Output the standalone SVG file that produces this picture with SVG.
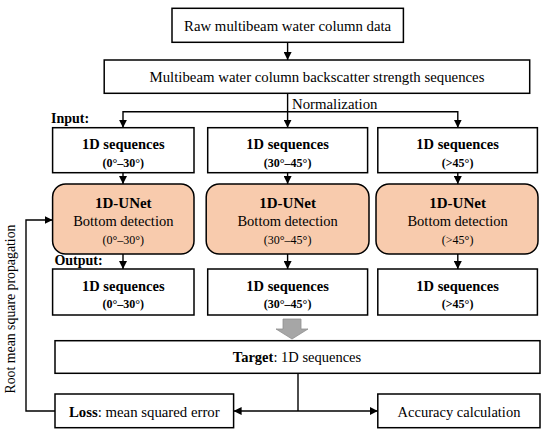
<svg xmlns="http://www.w3.org/2000/svg" width="550" height="436" viewBox="0 0 550 436">
<defs>
<style>
.box{fill:#fff;stroke:#000;stroke-width:1.5}
.unet{fill:#f8cbad;stroke:#000;stroke-width:1.5}
.ln{fill:none;stroke:#000;stroke-width:1.4}
text{font-family:"Liberation Serif","Times New Roman",serif;fill:#000}
.t{font-size:14.8px;text-anchor:middle}
.b{font-size:14.5px;font-weight:bold;text-anchor:middle}
.s{font-size:12px;text-anchor:middle}
.sb{font-size:12px;font-weight:bold;text-anchor:middle}
.lab{font-size:14px;font-weight:bold}
</style>
<marker id="ah" viewBox="0 0 10 10" refX="10" refY="5" markerWidth="8" markerHeight="8" markerUnits="userSpaceOnUse" orient="auto">
<path d="M0,0 L10,5 L0,10 Z" fill="#000"/>
</marker>
</defs>
<rect width="550" height="436" fill="#fff"/>

<g id="connectors">
<line class="ln" x1="287.6" y1="42.3" x2="287.6" y2="60" marker-end="url(#ah)"/>
<line class="ln" x1="287.6" y1="93.3" x2="287.6" y2="111.7"/>
<line class="ln" x1="123" y1="111.7" x2="457.8" y2="111.7"/>
<line class="ln" x1="123" y1="111" x2="123" y2="127.7" marker-end="url(#ah)"/>
<line class="ln" x1="287.6" y1="111" x2="287.6" y2="127.7" marker-end="url(#ah)"/>
<line class="ln" x1="457.8" y1="111" x2="457.8" y2="127.7" marker-end="url(#ah)"/>
<line class="ln" x1="123" y1="172.7" x2="123" y2="184" marker-end="url(#ah)"/>
<line class="ln" x1="287.6" y1="172.7" x2="287.6" y2="184" marker-end="url(#ah)"/>
<line class="ln" x1="457.8" y1="172.7" x2="457.8" y2="184" marker-end="url(#ah)"/>
<line class="ln" x1="123" y1="254" x2="123" y2="269" marker-end="url(#ah)"/>
<line class="ln" x1="287.6" y1="254" x2="287.6" y2="269" marker-end="url(#ah)"/>
<line class="ln" x1="457.8" y1="254" x2="457.8" y2="269" marker-end="url(#ah)"/>
<path d="M283,319 H301 V329 H308 L292,339 L276,329 H283 Z" fill="#a6a6a6" stroke="#8f8f8f" stroke-width="0.8"/>
<line class="ln" x1="298" y1="373.3" x2="298" y2="411"/>
<line class="ln" x1="298" y1="411" x2="233.6" y2="411" marker-end="url(#ah)"/>
<line class="ln" x1="298" y1="411" x2="377.8" y2="411" marker-end="url(#ah)"/>
<polyline class="ln" points="55,411 26,411 26,220 52.6,220" marker-end="url(#ah)"/>
</g>

<g id="raw">
<rect class="box" x="172" y="8.3" width="231.4" height="34"/>
<text class="t" x="287.6" y="30.5">Raw multibeam water column data</text>
</g>
<g id="multibeam">
<rect class="box" x="104.2" y="60" width="425.5" height="33.3"/>
<text class="t" x="317" y="81.5">Multibeam water column backscatter strength sequences</text>
</g>
<g id="normalization-label">
<text x="292" y="108.5" style="font-size:14.8px">Normalization</text>
</g>
<g id="input-label">
<text class="lab" x="51" y="122.7">Input:</text>
</g>

<g id="in-a">
<rect class="box" x="52.6" y="127.7" width="141.4" height="45"/>
<text class="b" x="123.3" y="149">1D sequences</text>
<text class="sb" x="123.3" y="166.7">(0°–30°)</text>
</g>
<g id="in-b">
<rect class="box" x="207.7" y="127.7" width="159.9" height="45"/>
<text class="b" x="287.6" y="149">1D sequences</text>
<text class="sb" x="287.6" y="166.7">(30°–45°)</text>
</g>
<g id="in-c">
<rect class="box" x="377.8" y="127.7" width="159.6" height="45"/>
<text class="b" x="457.6" y="149">1D sequences</text>
<text class="sb" x="457.6" y="166.7">(&gt;45°)</text>
</g>

<g id="unet-a">
<rect class="unet" x="52.6" y="184" width="141.4" height="70" rx="13"/>
<text class="b" x="123.3" y="207.7" style="font-size:15px">1D-UNet</text>
<text class="t" x="123.3" y="226" style="font-size:14.5px">Bottom detection</text>
<text class="s" x="123.3" y="244.3">(0°–30°)</text>
</g>
<g id="unet-b">
<rect class="unet" x="206.2" y="184" width="162.8" height="70" rx="13"/>
<text class="b" x="287.6" y="207.7" style="font-size:15px">1D-UNet</text>
<text class="t" x="287.6" y="226" style="font-size:14.5px">Bottom detection</text>
<text class="s" x="287.6" y="244.3">(30°–45°)</text>
</g>
<g id="unet-c">
<rect class="unet" x="376" y="184" width="162" height="70" rx="13"/>
<text class="b" x="457.6" y="207.7" style="font-size:15px">1D-UNet</text>
<text class="t" x="457.6" y="226" style="font-size:14.5px">Bottom detection</text>
<text class="s" x="457.6" y="244.3">(&gt;45°)</text>
</g>

<g id="output-label">
<text class="lab" x="54.4" y="265">Output:</text>
</g>

<g id="out-a">
<rect class="box" x="52.6" y="269" width="141.4" height="46"/>
<text class="b" x="123.3" y="290.7">1D sequences</text>
<text class="sb" x="123.3" y="307.7">(0°–30°)</text>
</g>
<g id="out-b">
<rect class="box" x="207.7" y="269" width="159.9" height="46"/>
<text class="b" x="287.6" y="290.7">1D sequences</text>
<text class="sb" x="287.6" y="307.7">(30°–45°)</text>
</g>
<g id="out-c">
<rect class="box" x="377.8" y="269" width="159.6" height="46"/>
<text class="b" x="457.6" y="290.7">1D sequences</text>
<text class="sb" x="457.6" y="307.7">(&gt;45°)</text>
</g>

<g id="target">
<rect class="box" x="55" y="340.7" width="485" height="32.6"/>
<text class="t" x="297" y="362" style="font-size:14.5px"><tspan font-weight="bold">Target</tspan>: 1D sequences</text>
</g>
<g id="loss">
<rect class="box" x="55" y="394" width="178.6" height="33.7"/>
<text class="t" x="144.3" y="416.5"><tspan font-weight="bold">Loss</tspan>: mean squared error</text>
</g>
<g id="accuracy">
<rect class="box" x="377.8" y="394" width="162.2" height="33.7"/>
<text class="t" x="459" y="416.5" style="font-size:14.5px">Accuracy calculation</text>
</g>
<g id="rmsp-label">
<text x="14.5" y="309" transform="rotate(-90 14.5 309)" style="font-size:13.8px;text-anchor:middle">Root mean square propagation</text>
</g>
</svg>
